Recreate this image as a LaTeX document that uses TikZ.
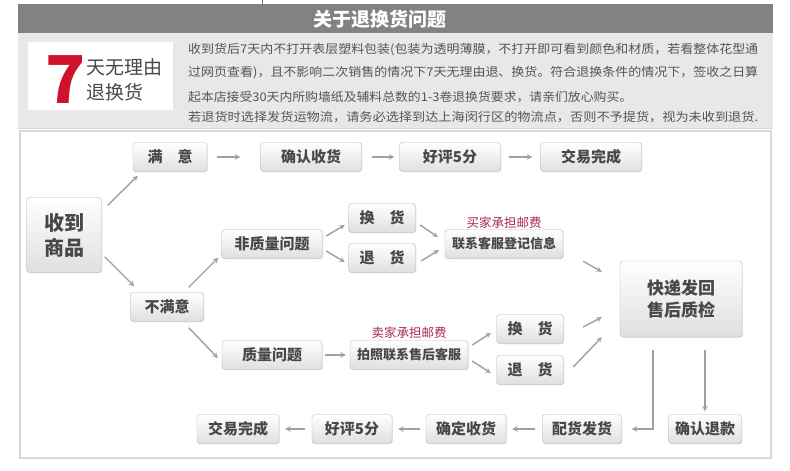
\documentclass[tikz,border=0pt]{standalone}
\usepackage{fontspec}
\setmainfont{Noto Sans CJK SC}
\usetikzlibrary{shapes,arrows,positioning,calc,shadows}

\definecolor{barGray}{HTML}{828282}
\definecolor{panelGray}{HTML}{E8E8E8}
\definecolor{frameGray}{HTML}{D8D8D8}
\definecolor{textGray}{HTML}{484848}
\definecolor{paraGray}{HTML}{555555}
\definecolor{arrowGray}{HTML}{A0A0A0}
\definecolor{sevenRed}{HTML}{D0112B}
\definecolor{feeRed}{HTML}{A8284A}
\newcommand{\fitline}[2]{\resizebox{#1}{\height}{#2}}

\begin{document}
\begin{tikzpicture}[
    x=1pt, y=-1pt,
    every node/.style={text=textGray},
    box/.style={draw=gray!55, rounded corners=3pt, top color=white, bottom color=gray!25,
        drop shadow={shadow xshift=0.8pt, shadow yshift=-0.8pt, opacity=0.2},
        minimum width=#1, minimum height=29pt, inner sep=0pt,
        font=\fontsize{15}{15}\selectfont\bfseries},
    box/.default=101pt,
    bigbox/.style={box=#1, minimum height=75pt, align=center},
    fee/.style={text=feeRed, font=\fontsize{12.5}{12.5}\selectfont, inner sep=1pt},
    para/.style={anchor=west, inner sep=0pt, text=paraGray, font=\fontsize{12}{12}\selectfont},
    arrow/.style={->, >=stealth, line width=1.4pt, draw=arrowGray}
]
    \fill[white] (0,0) rectangle (790,471);
    \useasboundingbox (0,0) rectangle (790,471);

    % Header bar
    \draw[gray!80!black, line width=0.8pt] (262,0) -- (262,4);
    \fill[barGray] (18,4) rectangle (773,33);
    \node[text=white, font=\fontsize{19}{19}\selectfont\bfseries] (title) at (380,19) {关于退换货问题};

    % Notice panel
    \fill[panelGray] (18,33) rectangle (773,128);
    \draw[frameGray, line width=1pt] (18,128) -- (773,128);
    \fill[white] (28,42) rectangle (173,110);
    \node[text=sevenRed, font=\fontsize{66}{66}\selectfont\bfseries, inner sep=0pt] (seven) at (66,80) {7};
    \node[anchor=west, inner sep=0pt, font=\fontsize{19}{19}\selectfont] (noreason) at (86,67) {天无理由};
    \node[anchor=west, inner sep=0pt, font=\fontsize{19}{19}\selectfont] (swap) at (86,92) {退换货};
    \node[para] (line1) at (188,50) {\fitline{570pt}{收到货后7天内不打开表层塑料包装(包装为透明薄膜，不打开即可看到颜色和材质，若看整体花型通}};
    \node[para] (line2) at (188,73) {\fitline{570pt}{过网页查看)，且不影响二次销售的情况下7天无理由退、换货。符合退换条件的情况下，签收之日算}};
    \node[para] (line3) at (188,97) {\fitline{444pt}{起本店接受30天内所购墙纸及辅料总数的1-3卷退换货要求，请亲们放心购买。}};
    \node[para] (line4) at (188,117) {\fitline{570pt}{若退货时选择发货运物流，请务必选择到达上海闵行区的物流点，否则不予提货，视为未收到退货.}};

    % Flow frame
    \draw[frameGray, line width=1.5pt, fill=white] (20,131) rectangle (771,458);

    % Satisfied branch
    \node[bigbox=75pt, font=\fontsize{20}{25}\selectfont\bfseries] (shou) at (64,235) {收到\\商品};
    \node[box=74pt] (manyi) at (170,157) {满\quad 意};
    \node[box] (queren) at (311,157) {确认收货};
    \node[box] (haoping1) at (450,157) {好评5分};
    \node[box] (wancheng1) at (591,157) {交易完成};

    % Not satisfied, no quality problem
    \node[box=73pt] (bumanyi) at (167,307) {不满意};
    \node[box] (feizhi) at (272,244) {非质量问题};
    \node[box=67pt] (huan1) at (382,218) {换\quad 货};
    \node[box=67pt] (tui1) at (382,258) {退\quad 货};
    \node[box=118pt, font=\fontsize{13}{13}\selectfont\bfseries] (lianxi) at (504,244) {联系客服登记信息};
    \node[fee, above=0pt of lianxi] (buyerfee) {买家承担邮费};
    \node[bigbox=122pt, minimum height=76pt, font=\fontsize{17}{22}\selectfont\bfseries] (kuaidi) at (681,299) {快递发回\\售后质检};

    % Quality problem
    \node[box=100pt] (zhiliang) at (272,355) {质量问题};
    \node[box=118pt, font=\fontsize{13}{13}\selectfont\bfseries] (paizhao) at (409,355) {拍照联系售后客服};
    \node[fee, above=1pt of paizhao] (sellerfee) {卖家承担邮费};
    \node[box=67pt] (huan2) at (530,329) {换\quad 货};
    \node[box=67pt] (tui2) at (530,370) {退\quad 货};

    % Return row
    \node[box=73pt] (tuikuan) at (705,429) {确认退款};
    \node[box=79pt] (peihuo) at (582,429) {配货发货};
    \node[box=80pt] (queding) at (466,429) {确定收货};
    \node[box=80pt] (haoping2) at (352,429) {好评5分};
    \node[box=82pt] (wancheng2) at (238,429) {交易完成};

    % Arrows
    \draw[arrow] ($(shou.north east)+(6,8)$) -- ($(manyi.south west)+(5,4)$);
    \draw[arrow] ($(shou.south east)+(3,-16)$) -- ($(bumanyi.north west)+(4,-6)$);
    \draw[arrow, shorten <=10pt, shorten >=20pt] (manyi) -- (queren);
    \draw[arrow, shorten <=10pt, shorten >=5pt] (queren) -- (haoping1);
    \draw[arrow, shorten <=8pt, shorten >=8pt] (haoping1) -- (wancheng1);

    \draw[arrow] ($(bumanyi.north east)+(-15,-5)$) -- ($(feizhi.south west)+(-3,-1)$);
    \draw[arrow] ($(bumanyi.south east)+(-15,6)$) -- ($(zhiliang.west)+(-4,3)$);
    \draw[arrow] ($(feizhi.east)+(3.5,-8)$) -- ($(huan1.west)+(-3.5,7)$);
    \draw[arrow] ($(feizhi.east)+(3.5,7)$) -- ($(tui1.west)+(-3.5,4)$);
    \draw[arrow] ($(huan1.east)+(4.5,7)$) -- ($(lianxi.west)+(-7,-7)$);
    \draw[arrow] ($(tui1.east)+(5.5,3)$) -- ($(lianxi.west)+(-6,6)$);
    \draw[arrow] ($(lianxi.south east)+(20,2.5)$) -- ($(kuaidi.north west)+(-18,11)$);

    \draw[arrow, shorten <=3pt, shorten >=4pt] (zhiliang) -- (paizhao);
    \draw[arrow] ($(paizhao.east)+(4,-10)$) -- ($(huan2.west)+(-5.5,4)$);
    \draw[arrow] ($(paizhao.east)+(4,6)$) -- ($(tui2.west)+(-5.5,3)$);
    \draw[arrow] ($(huan2.east)+(19.5,-2)$) -- ($(kuaidi.south west)+(-18,-20)$);
    \draw[arrow] ($(tui2.east)+(9.5,-3)$) -- ($(kuaidi.south west)+(-18,0)$);

    \draw[arrow, shorten >=10pt] ($(kuaidi.south)+(-28,13)$) |- (peihuo.east);
    \draw[arrow, shorten >=3pt] ($(kuaidi.south)+(24,13)$) -- (tuikuan.north);
    \draw[arrow, shorten <=7pt, shorten >=6pt] (peihuo) -- (queding);
    \draw[arrow, shorten <=6pt, shorten >=6pt] (queding) -- (haoping2);
    \draw[arrow, shorten <=7pt, shorten >=6pt] (haoping2) -- (wancheng2);
\end{tikzpicture}
\end{document}
